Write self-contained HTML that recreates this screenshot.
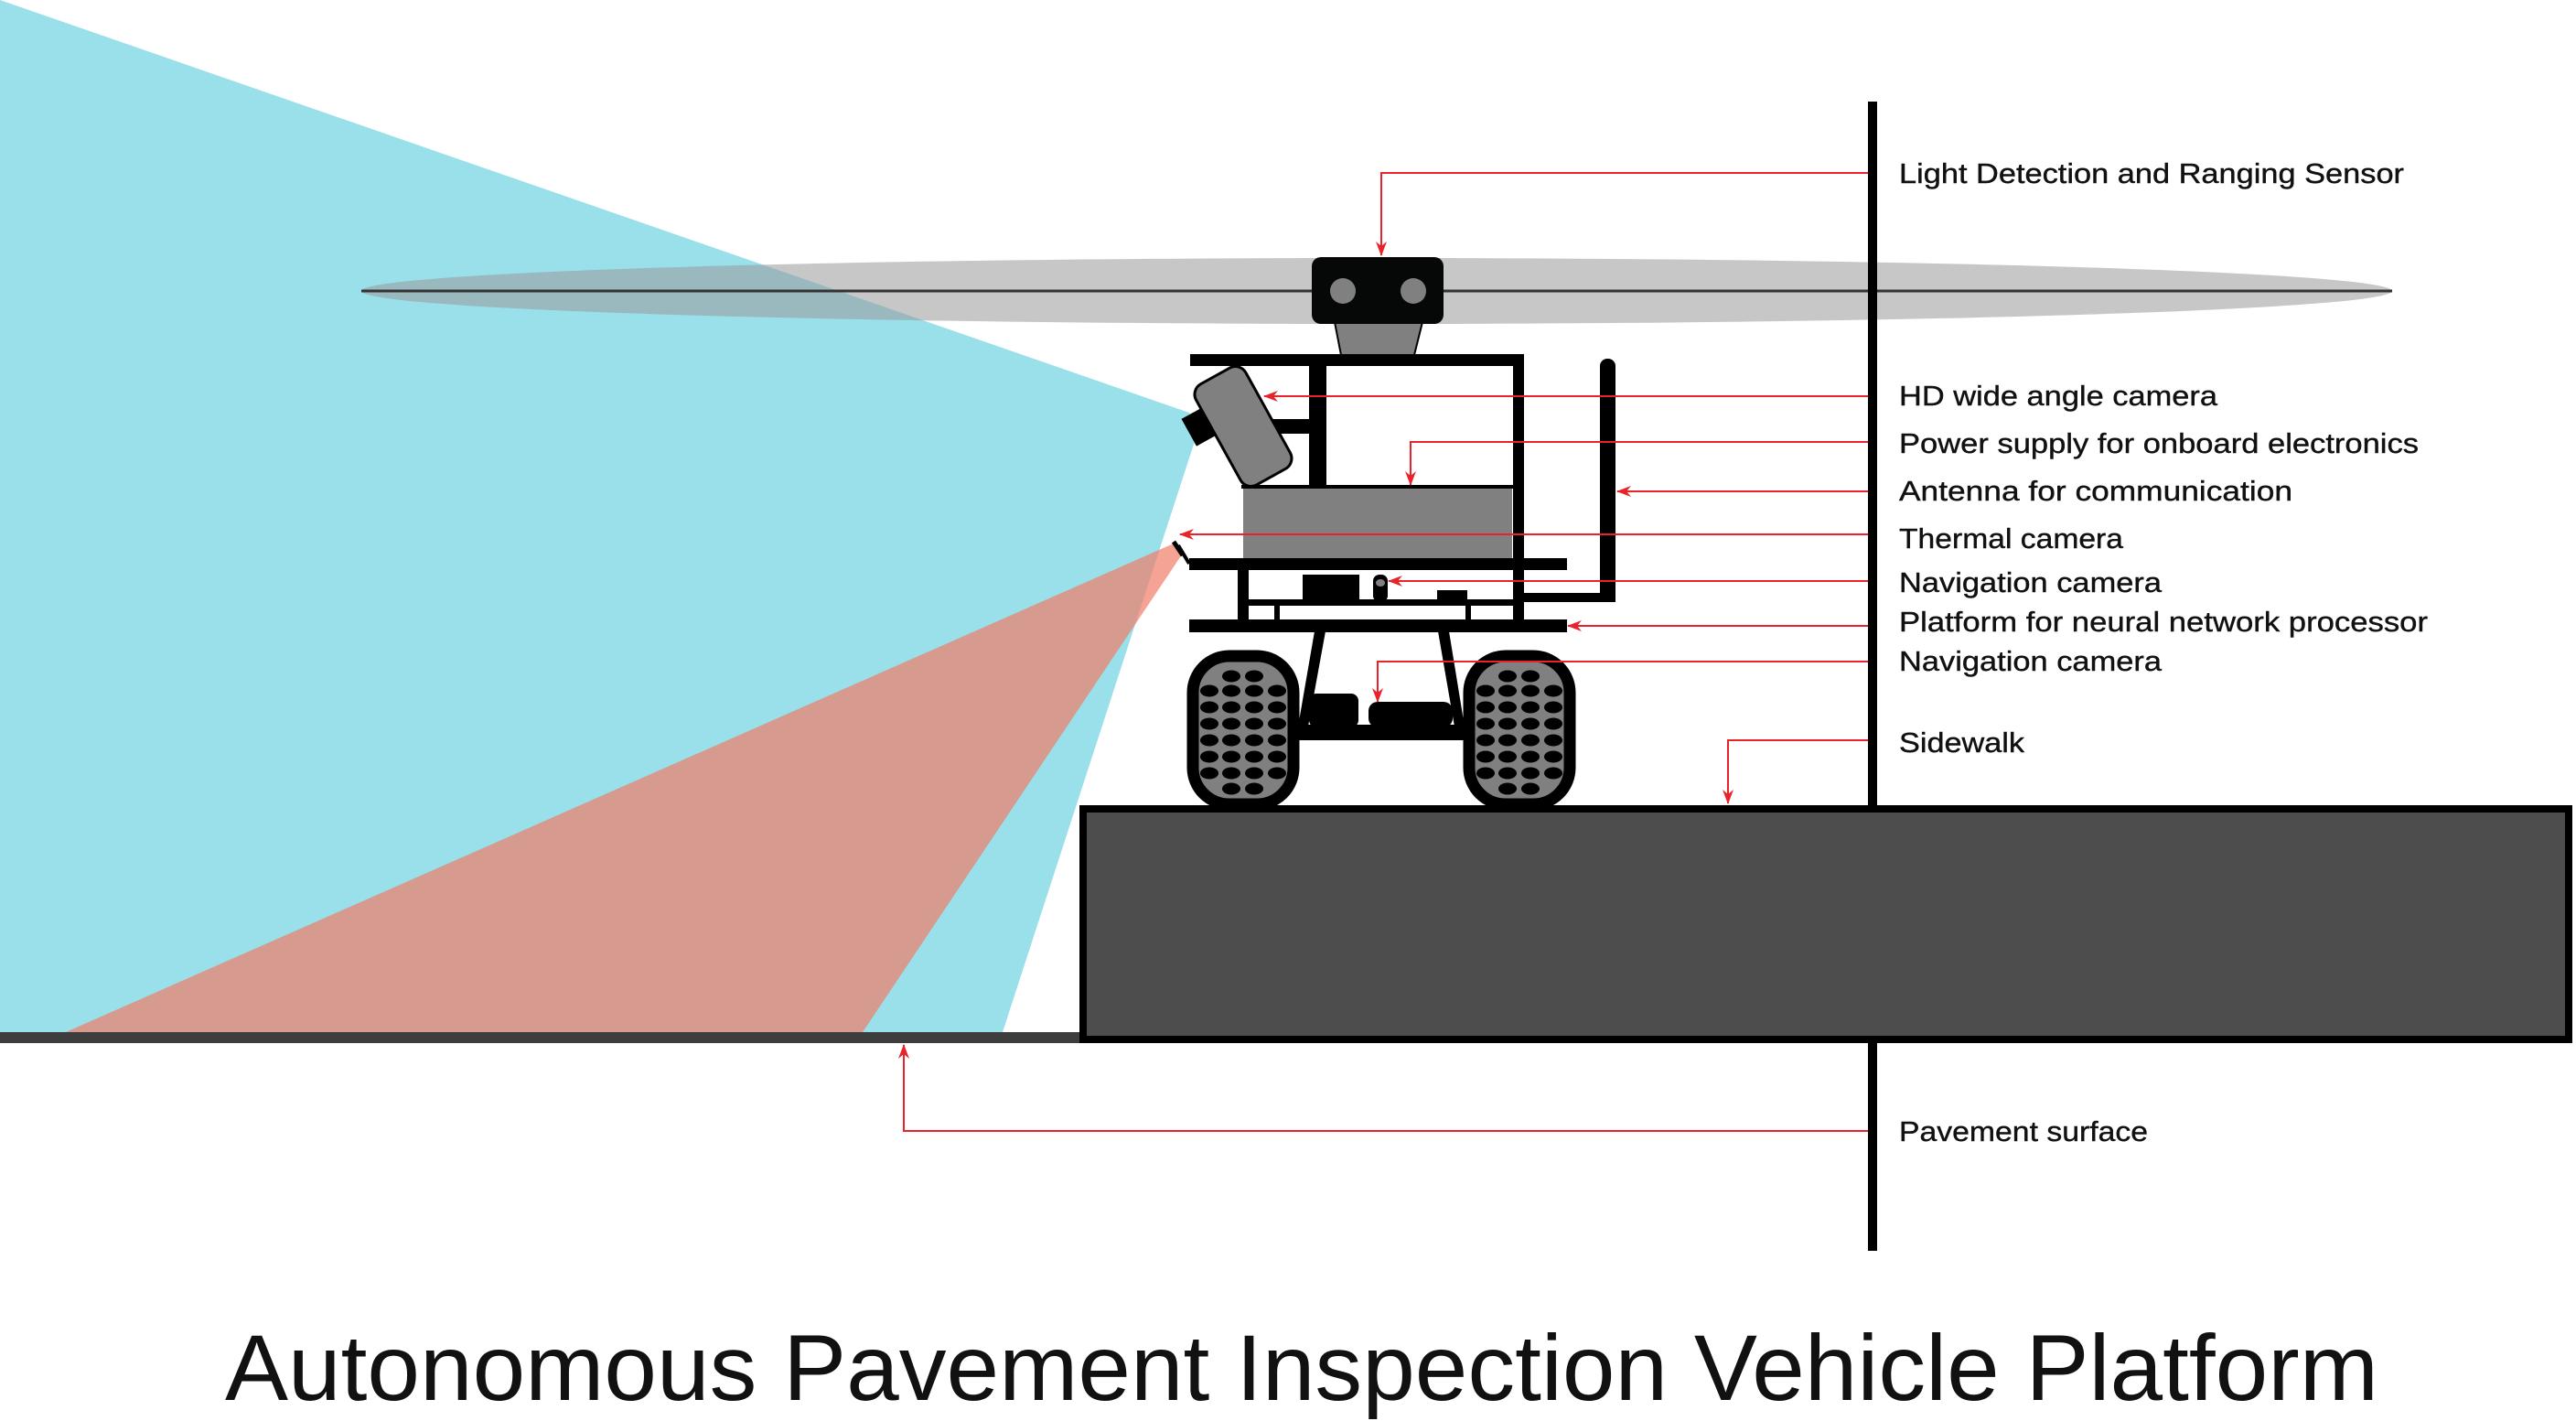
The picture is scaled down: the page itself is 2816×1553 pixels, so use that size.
<!DOCTYPE html>
<html><head><meta charset="utf-8"><style>
html,body{margin:0;padding:0;background:#fff}
svg{display:block}
text{font-family:"Liberation Sans",sans-serif;fill:#111}
</style></head><body>
<svg width="2816" height="1553" viewBox="0 0 2816 1553" xmlns="http://www.w3.org/2000/svg">
<defs>
<marker id="a" markerWidth="16" markerHeight="12" refX="15" refY="6" orient="auto" markerUnits="userSpaceOnUse">
<path d="M0,0 L16,6 L0,12 L5,6 Z" fill="#e8232a"/>
</marker>
</defs>
<rect width="2816" height="1553" fill="#fff"/>
<polygon points="0,0 1300,451 1310,470 1096,1128 0,1128" fill="#99e0eb"/>
<polygon points="72,1128 1283,594 1292,606 943,1128" fill="rgb(239,125,104)" opacity="0.71"/>
<ellipse cx="1505" cy="318" rx="1110" ry="36" fill="#999" opacity="0.55"/>
<line x1="395" y1="318" x2="2615" y2="318" stroke="#333" stroke-width="3"/>
<rect x="0" y="1128" width="1185" height="12" fill="#3d3d3d"/>
<rect x="2042" y="111" width="10" height="1256" fill="#000"/>
<rect x="1184" y="884" width="1624" height="252" fill="#4d4d4d" stroke="#000" stroke-width="8"/>

<polygon points="1459,352 1555,352 1546,388 1466,388" fill="#808080" stroke="#000" stroke-width="2"/>
<rect x="1434" y="281" width="144" height="73" rx="10" fill="#060808"/>
<ellipse cx="1468" cy="318" rx="14" ry="14" fill="#808080"/>
<ellipse cx="1545" cy="318" rx="14" ry="14" fill="#808080"/>
<rect x="1301" y="387" width="365" height="13" fill="#000"/>
<rect x="1431" y="398" width="19" height="136" fill="#000"/>
<rect x="1654" y="387" width="12" height="298" fill="#000"/>
<rect x="1359" y="458" width="74" height="16" fill="#000"/>
<g transform="translate(1312,466) rotate(-29)">
<rect x="-14" y="-17" width="26" height="34" fill="#000"/>
</g>
<g transform="translate(1359,466) rotate(-29)">
<rect x="-31" y="-63" width="62" height="126" rx="13" fill="#808080" stroke="#000" stroke-width="3"/>
</g>
<rect x="1359" y="532" width="294" height="80" fill="#808080"/>
<rect x="1357" y="530" width="298" height="4" fill="#000"/>
<rect x="1300" y="610" width="413" height="13" fill="#000"/>
<line x1="1300" y1="616" x2="1288" y2="596" stroke="#000" stroke-width="4"/>
<line x1="1283" y1="592" x2="1293" y2="607" stroke="#000" stroke-width="5"/>
<rect x="1353" y="620" width="12" height="65" fill="#000"/>
<rect x="1363" y="655" width="293" height="7" fill="#000"/>
<rect x="1424" y="628" width="62" height="29" fill="#000"/>
<rect x="1501" y="628" width="16" height="30" rx="7" fill="#000"/>
<ellipse cx="1509" cy="637" rx="5" ry="4" fill="#808080"/>
<rect x="1571" y="645" width="33" height="12" fill="#000"/>
<rect x="1393" y="660" width="6" height="18" fill="#000"/>
<rect x="1602" y="660" width="6" height="18" fill="#000"/>
<rect x="1749" y="392" width="17" height="266" rx="8" fill="#000"/>
<rect x="1660" y="648" width="106" height="10" fill="#000"/>
<rect x="1300" y="677" width="413" height="14" fill="#000"/>
<polygon points="1437,690 1449,690 1430,794 1419,794" fill="#000"/>
<polygon points="1572,690 1584,690 1601,794 1590,794" fill="#000"/>
<rect x="1418" y="792" width="184" height="17" fill="#000"/>
<rect x="1431" y="758" width="54" height="37" rx="8" fill="#000"/>
<rect x="1496" y="767" width="92" height="28" rx="10" fill="#000"/>
<g id="w">
<rect x="1304" y="717" width="110" height="162" rx="40" fill="#808080" stroke="#000" stroke-width="13"/>
<g fill="#000">
<ellipse cx="1346" cy="739" rx="10" ry="6.5"/><ellipse cx="1371" cy="739" rx="10" ry="6.5"/>
<ellipse cx="1322" cy="755" rx="10" ry="6.5"/><ellipse cx="1346" cy="755" rx="10" ry="6.5"/><ellipse cx="1371" cy="755" rx="10" ry="6.5"/><ellipse cx="1396" cy="755" rx="10" ry="6.5"/>
<ellipse cx="1322" cy="773" rx="10" ry="6.5"/><ellipse cx="1346" cy="773" rx="10" ry="6.5"/><ellipse cx="1371" cy="773" rx="10" ry="6.5"/><ellipse cx="1396" cy="773" rx="10" ry="6.5"/>
<ellipse cx="1322" cy="791" rx="10" ry="6.5"/><ellipse cx="1346" cy="791" rx="10" ry="6.5"/><ellipse cx="1371" cy="791" rx="10" ry="6.5"/><ellipse cx="1396" cy="791" rx="10" ry="6.5"/>
<ellipse cx="1322" cy="809" rx="10" ry="6.5"/><ellipse cx="1346" cy="809" rx="10" ry="6.5"/><ellipse cx="1371" cy="809" rx="10" ry="6.5"/><ellipse cx="1396" cy="809" rx="10" ry="6.5"/>
<ellipse cx="1322" cy="827" rx="10" ry="6.5"/><ellipse cx="1346" cy="827" rx="10" ry="6.5"/><ellipse cx="1371" cy="827" rx="10" ry="6.5"/><ellipse cx="1396" cy="827" rx="10" ry="6.5"/>
<ellipse cx="1322" cy="845" rx="10" ry="6.5"/><ellipse cx="1346" cy="845" rx="10" ry="6.5"/><ellipse cx="1371" cy="845" rx="10" ry="6.5"/><ellipse cx="1396" cy="845" rx="10" ry="6.5"/>
<ellipse cx="1346" cy="862" rx="10" ry="6.5"/><ellipse cx="1371" cy="862" rx="10" ry="6.5"/>
</g>
</g>
<use href="#w" transform="translate(302,0)"/>

<g fill="none" stroke="#e8232a" stroke-width="2">
<polyline points="2042,189 1510,189 1510,279" marker-end="url(#a)"/>
<polyline points="2042,433 1382,433" marker-end="url(#a)"/>
<polyline points="2042,483 1542,483 1542,530" marker-end="url(#a)"/>
<polyline points="2042,537 1768,537" marker-end="url(#a)"/>
<polyline points="2042,584 1290,584" marker-end="url(#a)"/>
<polyline points="2042,635 1518,635" marker-end="url(#a)"/>
<polyline points="2042,684 1714,684" marker-end="url(#a)"/>
<polyline points="2042,723 1506,723 1506,767" marker-end="url(#a)"/>
<polyline points="2042,809 1889,809 1889,878" marker-end="url(#a)"/>
<polyline points="2042,1236 988,1236 988,1142" marker-end="url(#a)"/>
</g>

<g font-size="31" stroke="#111" stroke-width="0.4">
<text x="2076" y="200" textLength="552" lengthAdjust="spacingAndGlyphs">Light Detection and Ranging Sensor</text>
<text x="2076" y="443" textLength="348" lengthAdjust="spacingAndGlyphs">HD wide angle camera</text>
<text x="2076" y="495" textLength="568" lengthAdjust="spacingAndGlyphs">Power supply for onboard electronics</text>
<text x="2076" y="547" textLength="430" lengthAdjust="spacingAndGlyphs">Antenna for communication</text>
<text x="2076" y="599" textLength="245" lengthAdjust="spacingAndGlyphs">Thermal camera</text>
<text x="2076" y="647" textLength="287" lengthAdjust="spacingAndGlyphs">Navigation camera</text>
<text x="2076" y="690" textLength="578" lengthAdjust="spacingAndGlyphs">Platform for neural network processor</text>
<text x="2076" y="733" textLength="287" lengthAdjust="spacingAndGlyphs">Navigation camera</text>
<text x="2076" y="822" textLength="137" lengthAdjust="spacingAndGlyphs">Sidewalk</text>
<text x="2076" y="1247" textLength="272" lengthAdjust="spacingAndGlyphs">Pavement surface</text>
</g>
<text x="246" y="1530" font-size="102" textLength="2354" lengthAdjust="spacingAndGlyphs">Autonomous Pavement Inspection Vehicle Platform</text>
</svg>
</body></html>
